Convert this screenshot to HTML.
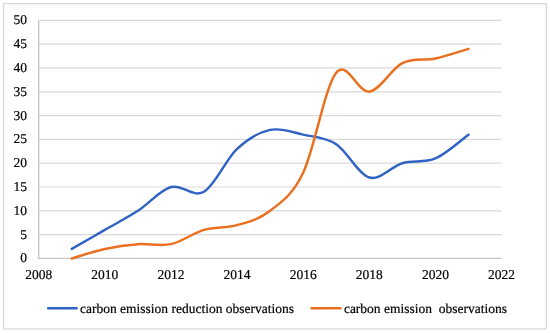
<!DOCTYPE html>
<html><head><meta charset="utf-8"><style>
html,body{margin:0;padding:0;background:#fff;}
body{width:550px;height:333px;overflow:hidden;}
svg{display:block;will-change:transform;}
text{text-rendering:geometricPrecision;font-family:"Liberation Serif",serif;font-size:13.5px;fill:#000;stroke:#000;stroke-width:0.18px;}
</style></head><body>
<svg width="550" height="333" viewBox="0 0 550 333">
<rect x="0" y="0" width="550" height="333" fill="#fff"/>
<rect x="3.6" y="3.6" width="542.7" height="325.3" fill="none" stroke="#d9d9d9" stroke-width="1.3"/>
<g stroke="#d9d9d9" stroke-width="1.2"><line x1="38.7" y1="234.64" x2="501.5" y2="234.64"/><line x1="38.7" y1="210.83" x2="501.5" y2="210.83"/><line x1="38.7" y1="187.02" x2="501.5" y2="187.02"/><line x1="38.7" y1="163.21" x2="501.5" y2="163.21"/><line x1="38.7" y1="139.40" x2="501.5" y2="139.40"/><line x1="38.7" y1="115.59" x2="501.5" y2="115.59"/><line x1="38.7" y1="91.78" x2="501.5" y2="91.78"/><line x1="38.7" y1="67.97" x2="501.5" y2="67.97"/><line x1="38.7" y1="44.16" x2="501.5" y2="44.16"/><line x1="38.7" y1="20.35" x2="501.5" y2="20.35"/>
</g>
<g stroke="#c4c4c4" stroke-width="1.3" fill="none"><path d="M38.7,20.35 L38.7,258.45 L501.5,258.45"/></g>
<g><text x="27" y="262.45" text-anchor="end">0</text><text x="27" y="238.64" text-anchor="end">5</text><text x="27" y="214.83" text-anchor="end">10</text><text x="27" y="191.02" text-anchor="end">15</text><text x="27" y="167.21" text-anchor="end">20</text><text x="27" y="143.40" text-anchor="end">25</text><text x="27" y="119.59" text-anchor="end">30</text><text x="27" y="95.78" text-anchor="end">35</text><text x="27" y="71.97" text-anchor="end">40</text><text x="27" y="48.16" text-anchor="end">45</text><text x="27" y="24.35" text-anchor="end">50</text><text x="38.70" y="279" text-anchor="middle">2008</text><text x="104.81" y="279" text-anchor="middle">2010</text><text x="170.93" y="279" text-anchor="middle">2012</text><text x="237.04" y="279" text-anchor="middle">2014</text><text x="303.16" y="279" text-anchor="middle">2016</text><text x="369.27" y="279" text-anchor="middle">2018</text><text x="435.39" y="279" text-anchor="middle">2020</text><text x="501.50" y="279" text-anchor="middle">2022</text></g>
<path d="M71.76,248.93 C77.27,245.75 93.80,236.23 104.81,229.88 C115.83,223.53 126.85,217.97 137.87,210.83 C148.89,203.69 159.91,190.19 170.93,187.02 C181.95,183.85 192.97,198.13 203.99,191.78 C215.00,185.43 226.02,159.24 237.04,148.92 C248.06,138.61 259.08,132.26 270.10,129.88 C281.12,127.50 292.14,132.26 303.16,134.64 C314.18,137.02 325.20,137.02 336.21,144.16 C347.23,151.30 358.25,174.32 369.27,177.50 C380.29,180.67 391.31,166.38 402.33,163.21 C413.35,160.04 424.37,163.21 435.39,158.45 C446.40,153.69 462.93,138.61 468.44,134.64" fill="none" stroke="#3063c4" stroke-width="2.45" stroke-linecap="round" stroke-linejoin="round"/>
<path d="M71.76,258.45 C77.27,256.86 93.80,251.31 104.81,248.93 C115.83,246.54 126.85,244.96 137.87,244.16 C148.89,243.37 159.91,246.54 170.93,244.16 C181.95,241.78 192.97,233.05 203.99,229.88 C215.00,226.70 226.02,228.29 237.04,225.12 C248.06,221.94 259.08,219.56 270.10,210.83 C281.12,202.10 292.14,195.75 303.16,172.73 C314.18,149.72 325.20,86.22 336.21,72.73 C347.23,59.24 358.25,93.37 369.27,91.78 C380.29,90.19 391.31,68.76 402.33,63.21 C413.35,57.65 424.37,60.83 435.39,58.45 C446.40,56.07 462.93,50.51 468.44,48.92" fill="none" stroke="#ea7020" stroke-width="2.45" stroke-linecap="round" stroke-linejoin="round"/>
<line x1="48.2" y1="308.3" x2="76.6" y2="308.3" stroke="#3063c4" stroke-width="2.4" stroke-linecap="round"/>
<text x="80" y="312.5">carbon emission reduction observations</text>
<line x1="311.6" y1="308.3" x2="340.5" y2="308.3" stroke="#ea7020" stroke-width="2.4" stroke-linecap="round"/>
<text x="343.9" y="312.5" xml:space="preserve">carbon emission  observations</text>
</svg>
</body></html>
